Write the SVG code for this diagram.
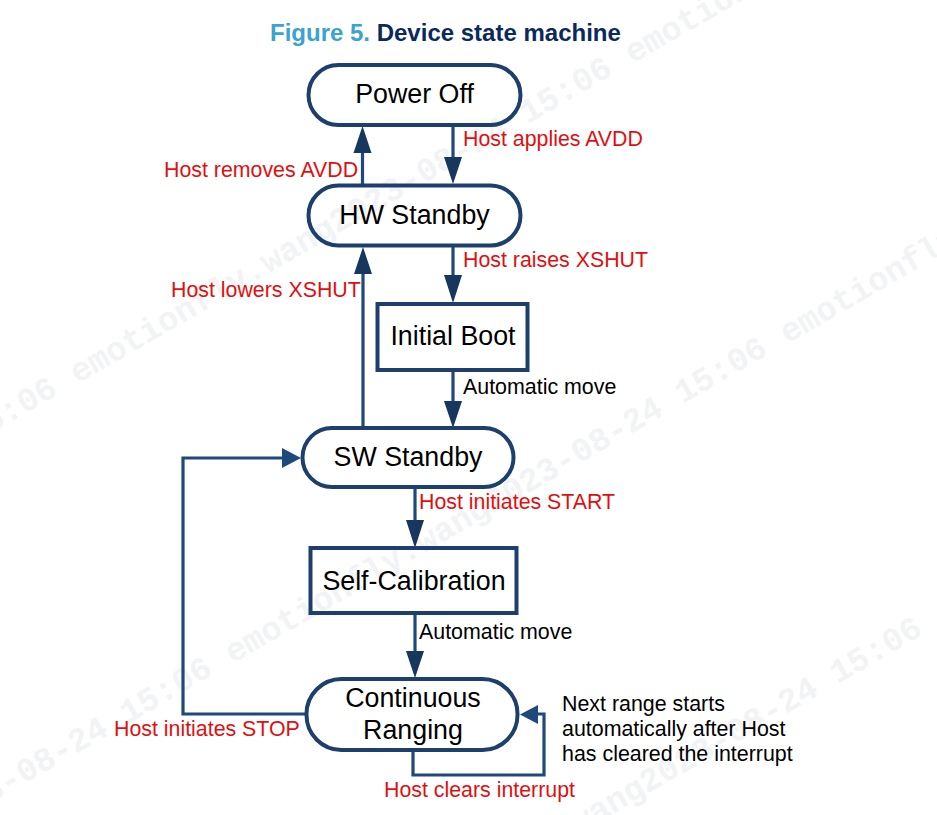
<svg xmlns="http://www.w3.org/2000/svg" width="937" height="815" viewBox="0 0 937 815">
<style>
text{font-family:"Liberation Sans",Arial,sans-serif}
.wm{font-family:"Liberation Mono","Courier New",monospace;font-size:33.3px;font-weight:bold;fill:#f1f3f5;text-anchor:end}
.shape{fill:none;stroke:#1c3f6e;stroke-width:4}
.node{font-size:26.8px;fill:#000;text-anchor:middle}
.red{font-size:21.35px;fill:#e01010}
.blk{font-size:21.4px;fill:#000}
.ln{fill:none;stroke:#1f497d;stroke-width:3.200}
.hd{fill:#17375e;stroke:none}
.hl{fill:#1f497d;stroke:none}
</style>
<rect width="937" height="815" fill="#fff"/>
<g id="watermark">
<text class="wm" transform="translate(-96 114) rotate(-30)">emotionfly.wang2023-08-24 15:06</text>
<text class="wm" transform="translate(59 394) rotate(-30)">emotionfly.wang2023-08-24 15:06</text>
<text class="wm" transform="translate(614 74) rotate(-30)">emotionfly.wang2023-08-24 15:06</text>
<text class="wm" transform="translate(1169 -246) rotate(-30)">emotionfly.wang2023-08-24 15:06</text>
<text class="wm" transform="translate(214 674) rotate(-30)">emotionfly.wang2023-08-24 15:06</text>
<text class="wm" transform="translate(769 354) rotate(-30)">emotionfly.wang2023-08-24 15:06</text>
<text class="wm" transform="translate(1324 34) rotate(-30)">emotionfly.wang2023-08-24 15:06</text>
<text class="wm" transform="translate(924 634) rotate(-30)">emotionfly.wang2023-08-24 15:06</text>
</g>
<text id="title" x="270" y="40.500" font-size="24" font-weight="bold" fill="#3ba3d0">Figure 5. <tspan fill="#0a2a5e">Device state machine</tspan></text>
<g id="connectors">
<path class="ln" d="M362.500 185V150"/><path class="hd" d="M362.500 126L371.500 153H353.500Z"/>
<path class="ln" d="M453 126V160"/><path class="hd" d="M453 184L444 157H462Z"/>
<path class="ln" d="M363 427V272"/><path class="hd" d="M363 247L372 274H354Z"/>
<path class="ln" d="M453 247V280"/><path class="hd" d="M453 303L444 275H462Z"/>
<path class="ln" d="M453 371V405"/><path class="hd" d="M453 428L444 401H462Z"/>
<path class="ln" d="M415 488V525"/><path class="hd" d="M415 548L406 520H424Z"/>
<path class="ln" d="M415 614V655"/><path class="hd" d="M415 678L406 651H424Z"/>
<path class="ln" d="M306 714H183V458H285"/><path class="hl" d="M301 458L282 448V468Z"/>
<path class="ln" d="M413 750V775H544V714H535"/><path class="hl" d="M520 714.500L538 705V724Z"/>
</g>
<g id="power-off"><rect class="shape" x="308.500" y="65" width="212" height="60" rx="30"/><text class="node" x="414.500" y="103">Power Off</text></g>
<g id="hw-standby"><rect class="shape" x="308.500" y="185.500" width="212" height="60" rx="30"/><text class="node" x="414.500" y="224">HW Standby</text></g>
<g id="initial-boot"><rect class="shape" x="377.500" y="304" width="150" height="66"/><text class="node" x="453" y="345">Initial Boot</text></g>
<g id="sw-standby"><rect class="shape" x="302.500" y="428" width="211" height="59" rx="29.500"/><text class="node" x="408" y="466">SW Standby</text></g>
<g id="self-calibration"><rect class="shape" x="310.500" y="548" width="206" height="65"/><text class="node" x="414" y="590">Self-Calibration</text></g>
<g id="continuous-ranging"><rect class="shape" x="306.500" y="679" width="211" height="71" rx="35"/><text class="node" x="413" y="707">Continuous</text><text class="node" x="413" y="739">Ranging</text></g>
<g id="labels">
<text class="red" x="463" y="146">Host applies AVDD</text>
<text class="red" x="164" y="177">Host removes AVDD</text>
<text class="red" x="463" y="267">Host raises XSHUT</text>
<text class="red" x="171" y="297">Host lowers XSHUT</text>
<text class="blk" x="463" y="394">Automatic move</text>
<text class="red" x="419" y="509">Host initiates START</text>
<text class="blk" x="419" y="639">Automatic move</text>
<text class="red" x="114" y="736">Host initiates STOP</text>
<text class="red" x="384" y="797">Host clears interrupt</text>
<text class="blk" x="562" y="711">Next range starts</text>
<text class="blk" x="562" y="736">automatically after Host</text>
<text class="blk" x="562" y="761">has cleared the interrupt</text>
</g>
</svg>
